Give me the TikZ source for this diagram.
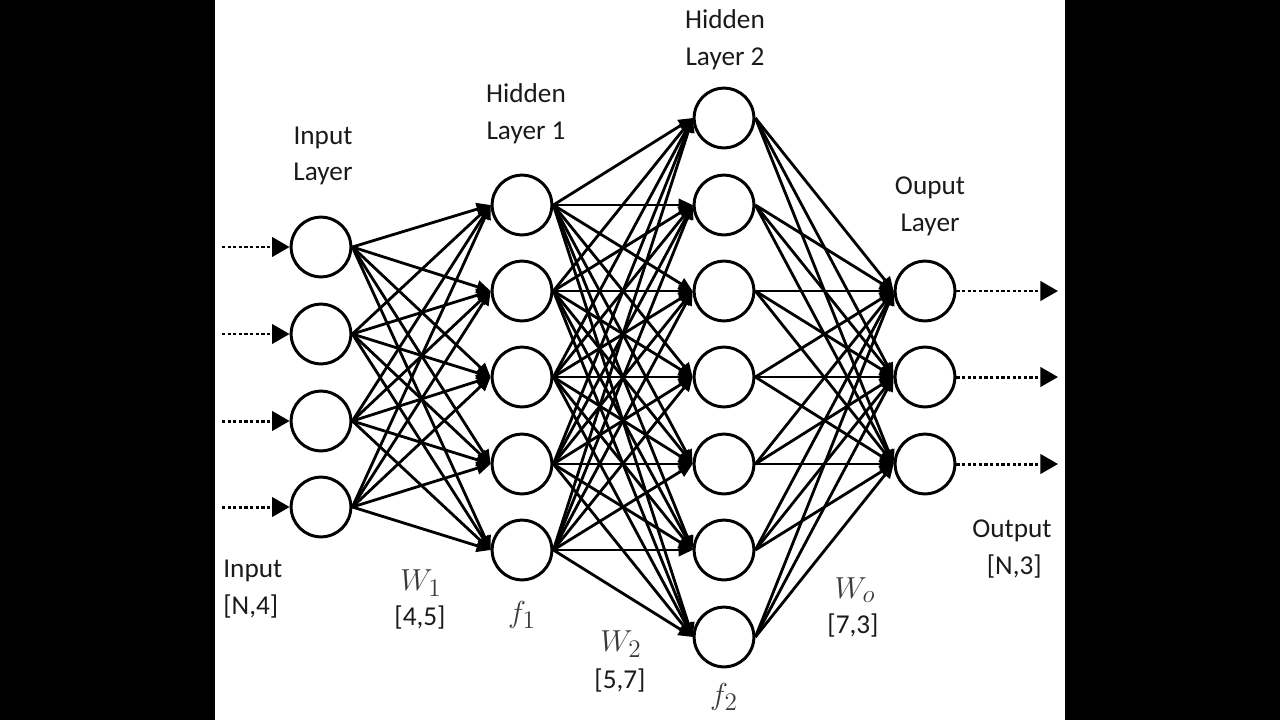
\documentclass[tikz,border=0pt]{standalone}
\usepackage{fontspec}
\setmainfont{Carlito}
\usetikzlibrary{arrows.meta}
\definecolor{txt}{HTML}{1A1A1A}
\definecolor{mth}{HTML}{3A3A3A}
\tikzset{
  neuron/.style={circle,draw=black,line width=1.7pt,minimum size=34pt,inner sep=0pt,fill=white},
  edge/.style={line width=1.6pt,-{Triangle[length=8pt,width=7pt]}},
  io/.style={line width=1.7pt,dash pattern=on 1.8pt off 1.4pt,-{Triangle[length=10pt,width=11pt,sep=0pt]},shorten >=0pt},
  lbl/.style={align=center,text=txt,font=\fontsize{15.5}{21}\selectfont,inner sep=0pt},
  mlbl/.style={text=mth,font=\fontsize{19}{20}\selectfont,inner sep=0pt},
  dim/.style={text=txt,font=\fontsize{15.5}{18}\selectfont,inner sep=0pt}
}
\begin{document}
\begin{tikzpicture}[x=0.02cm,y=-0.02cm]
\useasboundingbox (0,0) rectangle (1280,720);
\fill[black] (0,0) rectangle (215,720);
\fill[black] (1065,0) rectangle (1280,720);
% neurons
\foreach \n/\y in {1/247,2/334,3/421,4/507} \node[neuron] (i\n) at (321,\y) {};
\foreach \n/\y in {1/205,2/291,3/377,4/464,5/550} \node[neuron] (h\n) at (522,\y) {};
\foreach \n/\y in {1/118,2/205,3/291,4/377,5/464,6/550,7/637} \node[neuron] (g\n) at (724,\y) {};
\foreach \n/\y in {1/291,2/377,3/464} \node[neuron] (o\n) at (925,\y) {};
% edges
\foreach \a in {1,...,4} \foreach \b in {1,...,5} \draw[edge] (i\a.east) -- (h\b.west);
\foreach \a in {1,...,5} \foreach \b in {1,...,7} \draw[edge] (h\a.east) -- (g\b.west);
\foreach \a in {1,...,7} \foreach \b in {1,...,3} \draw[edge] (g\a.east) -- (o\b.west);
% input / output arrows
\foreach \n/\y in {1/247,2/334,3/421,4/507} {
  \coordinate (in\n) at (222,\y);
  \draw[io] (in\n) -- (i\n.west);
}
\foreach \n/\y in {1/291,2/377,3/464} {
  \coordinate (out\n) at (1058,\y);
  \draw[io] (o\n.east) -- (out\n);
}
% labels
\node[lbl] (lin) at (323,156) {Input\\Layer};
\node[lbl] (lh1) at (526,114) {Hidden\\Layer 1};
\node[lbl] (lh2) at (725,40) {Hidden\\Layer 2};
\node[lbl] (lout) at (930,206) {Ouput\\Layer};
\node[lbl,align=left,anchor=west] (xin) at (223,589) {Input\\{}[N,4]};
\node[lbl] (xout) at (1012,549) {Output\\\,{}[N,3]};
\node[mlbl] (w1) at (421,583) {$W_1$};
\node[dim] (w1d) at (420,618) {[4,5]};
\node[mlbl] (f1) at (522,615) {$f_1$};
\node[mlbl] (w2) at (621,644) {$W_2$};
\node[dim] (w2d) at (620,681) {[5,7]};
\node[mlbl] (f2) at (724,697) {$f_2$};
\node[mlbl] (wo) at (855,590) {$W_o$};
\node[dim] (wod) at (853,626) {[7,3]};
\end{tikzpicture}
\end{document}
